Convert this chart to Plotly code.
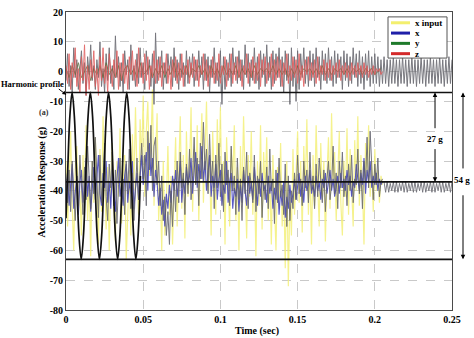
import numpy as np
import plotly.graph_objects as go

# ---- sampled records (1 kHz, g) -------------------------------------------
sample_step = 0.001
tail_start = 0.206

x_input = [
    -30, -52, -38, -20, -45, -60, -33, -25, -48, -40,
    -55, -28, -42, -18, -50, -35, -62, -30, -44, -22,
    -38, -58, -26, -47, -15, -40, -53, -32, -60, -36,
    -24, -46, -57, -30, -42, -19, -51, -37, -28, -63,
    -45, -33, -55, -21, -40, -12, -35, -48, -16, -30,
    -8, -42, -20, -10, -35, -25, -6, -45, -28, -14,
    -50, -38, -60, -30, -55, -44, -25, -48, -35, -58,
    -40, -22, -52, -31, -15, -46, -28, -56, -20, -42,
    -34, -12, -47, -26, -38, -18, -50, -30, -14, -44,
    -24, -10, -40, -28, -55, -20, -35, -48, -16, -38,
    -12, -45, -30, -58, -22, -40, -52, -26, -36, -18,
    -50, -32, -60, -25, -44, -15, -38, -56, -28, -42,
    -20, -48, -34, -62, -30, -45, -18, -53, -27, -40,
    -22, -50, -35, -58, -28, -43, -60, -32, -46, -24,
    -52, -38, -66, -30, -72, -42, -55, -26, -48, -35,
    -20, -44, -30, -54, -25, -40, -16, -48, -33, -58,
    -28, -45, -18, -38, -52, -24, -42, -30, -57, -35,
    -22, -46, -14, -39, -27, -50, -33, -20, -44, -55,
    -30, -42, -19, -48, -26, -37, -52, -23, -40, -15,
    -45, -28, -38, -58, -24, -35, -18, -42, -30, -47,
    -26, -40, -33, -44, -35, -38,
]

x_resp = [
    -40, -34, -45, -38, -31, -46, -39, -35, -48, -37,
    -33, -44, -40, -29, -42, -35, -47, -38, -32, -43,
    -36, -28, -41, -45, -34, -39, -30, -44, -37, -46,
    -33, -40, -47, -36, -29, -42, -38, -45, -35, -31,
    -44, -37, -41, -30, -46, -39, -34, -43, -36, -28,
    -38, -32, -27, -40, -24, -35, -29, -42, -33, -37,
    -45, -39, -48, -43, -52, -41, -46, -38, -44, -35,
    -40, -33, -42, -37, -30, -44, -36, -41, -32, -38,
    -35, -29, -41, -33, -27, -39, -31, -36, -25, -37,
    -30, -40, -34, -28, -42, -35, -39, -31, -43, -36,
    -33, -45, -38, -41, -30, -44, -37, -34, -46, -39,
    -42, -36, -47, -38, -44, -33, -40, -45, -35, -41,
    -37, -43, -32, -39, -45, -36, -42, -34, -40, -38,
    -44, -35, -41, -37, -46, -39, -43, -34, -48, -40,
    -45, -37, -49, -42, -46, -38, -44, -41, -36, -43,
    -39, -34, -42, -37, -44, -35, -40, -38, -33, -41,
    -38, -42, -35, -40, -37, -43, -36, -39, -34, -41,
    -37, -33, -40, -36, -42, -38, -35, -41, -34, -39,
    -36, -40, -33, -38, -35, -42, -37, -39, -31, -36,
    -40, -34, -38, -29, -41, -33, -37, -30, -39, -35,
    -38, -34, -40, -36, -38, -37,
]

x_resp_raw = [
    -36, -44, -33, -47, -30, -42, -50, -35, -45, -28,
    -40, -48, -32, -43, -25, -38, -46, -30, -41, -22,
    -35, -49, -28, -44, -36, -24, -42, -50, -31, -39,
    -27, -45, -33, -51, -38, -29, -44, -36, -48, -30,
    -41, -26, -46, -34, -50, -37, -29, -43, -32, -24,
    -36, -28, -45, -20, -33, -18, -40, -25, -22, -38,
    -30, -45, -35, -50, -42, -55, -47, -58, -40, -52,
    -36, -47, -30, -44, -27, -39, -34, -48, -31, -41,
    -26, -43, -35, -22, -38, -29, -45, -24, -36, -17,
    -33, -26, -41, -21, -37, -30, -46, -28, -39, -24,
    -42, -31, -47, -27, -38, -33, -45, -25, -40, -35,
    -48, -29, -43, -36, -50, -32, -41, -27, -46, -34,
    -38, -44, -28, -47, -35, -41, -30, -49, -37, -43,
    -32, -46, -26, -40, -36, -51, -33, -44, -29, -42,
    -38, -48, -31, -52, -35, -50, -40, -46, -34, -43,
    -28, -41, -36, -45, -30, -39, -33, -44, -27, -40,
    -35, -46, -31, -42, -29, -38, -44, -33, -47, -36,
    -30, -43, -38, -25, -41, -34, -46, -30, -39, -27,
    -42, -35, -45, -31, -40, -28, -44, -36, -38, -26,
    -41, -33, -46, -30, -37, -22, -39, -20, -35, -43,
    -31, -38, -29, -42, -37, -36,
]

x_resp_tail = [
    -37, -40.5, -37, -40.5, -37.5, -40, -37, -40.5, -37, -40.5,
    -37.5, -40, -37, -40.5, -37, -40.5, -37.5, -40, -37, -40.5,
    -37, -40.5, -37.5, -40, -37, -40.5, -37, -40.5, -37.5, -40,
    -37, -40.5, -37, -40.5, -37.5, -40, -37, -40.5, -37, -40.5,
    -37.5, -40, -37, -40.5, -37,
]

y_resp = [
    1, -2, 2, -1, 3, -2, 0, 2, -3, 1,
    -1, 2, -2, 3, -1, 1, -2, 2, -3, 1,
    2, -1, 1, -2, 3, -1, 0, 2, -2, 1,
    -1, 2, -2, 1, -1, 3, -2, 1, -1, 2,
    -2, 1, 0, 2, -1, 1, -2, 2, -1, 1,
    -2, 2, -1, 1, -1, 2, -2, 1, -1, 1,
    -2, 2, -1, 1, 0, 1, -1, 2, -1, 1,
    -1, 1, -2, 1, -1, 2, -1, 1, 0, 1,
    -1, 1, -1, 2, -1, 1, -1, 1, 0, 1,
    -1, 1, -1, 1, 0, 1, -1, 1, 0, 1,
    -1, 0, 1,
]

z_resp = [
    2, -4, 6, -6, 3, -2, 8, -5, 1, -7,
    5, -3, 9, -8, 2, -6, 4, -2, 7, -5,
    1, -8, 5, -3, 8, -4, 2, -7, 6, -1,
    -5, 4, -2, 7, -6, 3, -3, 6, -4, 2,
    -6, 5, -1, 7, -3, 4, -5, 8, -2, 3,
    -4, 6, -3, 5, -6, 2, -2, 7, -4, 4,
    -3, 5, -5, 3, -1, 6, -4, 2, -6, 4,
    -2, 5, -4, 3, -3, 6, -5, 2, -1, 4,
    -4, 3, -2, 5, -3, 4, -5, 2, -1, 6,
    -3, 4, -5, 2, -2, 5, -4, 3, -3, 6,
    -4, 2, -1, 5, -5, 3, -2, 6, -4, 3,
    -3, 5, -2, 4, -5, 2, -1, 6, -4, 3,
    -2, 5, -4, 3, -3, 6, -5, 4, -1, 5,
    -4, 3, -2, 6, -5, 4, -3, 5, -2, 4,
    -5, 3, -1, 6, -4, 2, -3, 5, -2, 4,
    -4, 6, -3, 2, -5, 4, -1, 5, -3, 3,
    -2, 4, -4, 5, -3, 2, -1, 4, -3, 3,
    -2, 4, -3, 2, -1, 3, -2, 4, -3, 2,
    -1, 3, -2, 2, -3, 3, -1, 2, -2, 3,
    -1, 2, -2, 3, -1, 2, -2, 1, -1, 2,
    -1, 1, 0, 1, -1, 0,
]

z_resp_raw = [
    -3, 6, -5, 2, -7, 8, -2, 4, -6, 1,
    7, -4, 3, -8, 5, -1, 9, -3, 2, -6,
    4, -2, 10, -5, 1, -7, 6, -3, 8, -4,
    2, -6, 12, -2, 5, -5, 3, -7, 7, -1,
    4, -6, 9, -3, 2, -5, 6, -4, 8, -2,
    3, -6, 7, -1, 4, -5, 6, -11, 13, -4,
    5, -2, 7, -6, 3, -4, 6, -1, 5, -5,
    8, -3, 4, -6, 6, -2, 3, -5, 7, -4,
    5, -1, 6, -5, 4, -3, 7, -2, 5, -6,
    6, -3, 5, -7, 4, -2, 8, -4, 3, -5,
    7, -11, 5, -6, 4, -3, 6, -5, 8, -1,
    5, -4, 7, -3, 4, -6, 9, -2, 6, -5,
    4, -3, 8, -4, 5, -6, 7, -2, 6, -5,
    9, -3, 5, -6, 7, -4, 6, -2, 8, -5,
    5, -7, 7, -3, 6, -11, 8, -5, 5, -10,
    7, -6, 6, -2, 8, -4, 5, -5, 7, -3,
    6, -5, 8, -2, 5, -6, 7, -3, 6, -4,
    8, -3, 5, -5, 7, -4, 6, -2, 5, -6,
    7, -3, 6, -5, 5, -4, 8, -2, 6, -5,
    7, -4, 5, -6, 6, -3, 7, -5, 5, -4,
    6, -4, 5, -5, 4, -4, 5, -4, 4, -5,
    4, -4, 5, -4, 4, -5, 4, -4, 5, -4,
    4, -5, 4, -4, 5, -4, 4, -5, 4, -4,
    5, -4, 4, -5, 4, -4, 5, -4, 4, -5,
    4, -4, 5, -4, 4, -5, 4, -4, 5, -4, 4,
]

# harmonic excitation profile (knots of the sine, g)
harmonic_t = [
    0.0, 0.001, 0.002475, 0.00395, 0.005425, 0.0069, 0.008375, 0.00985,
    0.011325, 0.0128, 0.014275, 0.01575, 0.017225, 0.0187, 0.020175,
    0.02165, 0.023125, 0.0246, 0.026075, 0.02755, 0.029025, 0.0305,
    0.031975, 0.03345, 0.034925, 0.0364, 0.037875, 0.03935, 0.040825,
    0.0423, 0.043775, 0.04525, 0.046725, 0.0482,
]
harmonic_g = [
    -49.2, -35, -15.2, -7, -15.2, -35, -54.8, -63,
    -54.8, -35, -15.2, -7, -15.2, -35, -54.8,
    -63, -54.8, -35, -15.2, -7, -15.2, -35,
    -54.8, -63, -54.8, -35, -15.2, -7, -15.2,
    -35, -54.8, -63, -54.8, -35,
]

# reference levels: harmonic peak, mean, harmonic trough
level_peak, level_mean, level_trough = -7, -37, -63
span_half, span_full = "27 g", "54 g"

x_ticks = [0, 0.05, 0.1, 0.15, 0.2, 0.25]
x_tick_text = ["0", "0.05", "0.1", "0.15", "0.2", "0.25"]
y_ticks = [20, 10, 0, -10, -20, -30, -40, -50, -60, -70, -80]
y_tick_text = ["20", "10", "0", "-10", "-20", "-30", "-40", "-50", "-60", "-70", "-80"]

legend_names = ["x input", "x", "y", "z"]
legend_colors = ["#f3ef6e", "#1f1fa8", "#1e7a2a", "#d42a2a"]

# ---- time bases ------------------------------------------------------------
t_main = np.round(np.arange(len(x_input)) * sample_step, 4)
t_raw_top = np.round(np.arange(len(z_resp_raw)) * sample_step, 4)
t_tail = np.round(tail_start + np.arange(len(x_resp_tail)) * sample_step, 4)
t_y = np.round(np.arange(len(y_resp)) * 2 * sample_step, 4)

SERIF = "Liberation Serif"
fig = go.Figure()

def add_line(t, v, color, width=1.0, opacity=1.0, shape="linear", smoothing=None):
    line = dict(color=color, width=width, shape=shape)
    if smoothing is not None:
        line["smoothing"] = smoothing
    fig.add_trace(go.Scatter(x=t, y=v, mode="lines", line=line,
                             opacity=opacity, showlegend=False,
                             hoverinfo="skip"))

# lower cluster: input, filtered and raw x response
add_line(t_main, x_input, "#f4f07a", 1.2, 0.85)
add_line(t_main, x_resp, "#4646c0", 1.1, 0.9)
add_line(t_main, x_resp_raw, "#5e5e68", 1.0, 0.85)
add_line(t_tail, x_resp_tail, "#707078", 0.9)

# upper cluster: z response with raw record and y
add_line(t_raw_top, z_resp_raw, "#606068", 1.0, 0.85)
add_line(t_y, y_resp, "#5c6a3c", 1.0, 0.8)
add_line(t_main, z_resp, "#e05858", 1.0, 0.85)

# harmonic profile
add_line(harmonic_t, harmonic_g, "#111111", 1.7, 1.0, "spline", 1.0)

shapes = []
for lv in (level_peak, level_mean, level_trough):
    shapes.append(dict(type="line", xref="x", yref="y", x0=0, x1=0.25,
                       y0=lv, y1=lv, line=dict(color="#111111", width=1.6),
                       layer="above"))

# manual legend box
L, R, T, B = 66, 22, 6, 28
W, H = 474 - L - R, 338 - T - B
px = lambda p: (p - L) / W
py = lambda p: (338 - B - p) / H
shapes.append(dict(type="rect", xref="paper", yref="paper",
                   x0=px(388), x1=px(447), y0=py(53), y1=py(11),
                   fillcolor="white", line=dict(color="#555555", width=1),
                   layer="above"))
annotations = []
for i, (name, col) in enumerate(zip(legend_names, legend_colors)):
    yy = py(17 + i * 10.5)
    shapes.append(dict(type="line", xref="paper", yref="paper",
                       x0=px(391), x1=px(410), y0=yy, y1=yy,
                       line=dict(color=col, width=3), layer="above"))
    annotations.append(dict(xref="paper", yref="paper", x=px(413), y=yy,
                            text=name, showarrow=False, xanchor="left",
                            yanchor="middle",
                            font=dict(family=SERIF, size=9, color="black",
                                      weight="bold")))

txt_font = dict(family=SERIF, size=9, color="black", weight="bold")

# span markers: 27 g between peak and mean
x27 = 0.239
annotations += [
    dict(x=x27, y=(level_peak + level_mean) / 2 - 0.5, xref="x", yref="y",
         text=span_half, showarrow=False, font=txt_font,
         xanchor="center", yanchor="middle"),
    dict(x=x27, y=level_peak, ax=x27, ay=-19.5, xref="x", yref="y",
         axref="x", ayref="y", text="", showarrow=True, arrowhead=2,
         arrowsize=0.9, arrowwidth=1, arrowcolor="black"),
    dict(x=x27, y=level_mean, ax=x27, ay=-25.5, xref="x", yref="y",
         axref="x", ayref="y", text="", showarrow=True, arrowhead=2,
         arrowsize=0.9, arrowwidth=1, arrowcolor="black"),
]
# 54 g between peak and trough, outside the frame
x54 = px(463)
annotations += [
    dict(x=px(462), y=level_mean + 0.5, xref="paper", yref="y",
         text=span_full, showarrow=False, font=txt_font,
         xanchor="center", yanchor="middle"),
    dict(x=x54, y=level_peak, ax=0, ay=-33, xref="paper", yref="y",
         axref="pixel", ayref="y", text="", showarrow=True, arrowhead=2,
         arrowsize=0.9, arrowwidth=1, arrowcolor="black"),
    dict(x=x54, y=level_trough, ax=0, ay=-41, xref="paper", yref="y",
         axref="pixel", ayref="y", text="", showarrow=True, arrowhead=2,
         arrowsize=0.9, arrowwidth=1, arrowcolor="black"),
]
# harmonic profile label, panel tag and axis titles
annotations += [
    dict(xref="paper", yref="paper", x=px(32), y=py(79), text="Harmonic profile",
         showarrow=False, xanchor="center", yanchor="middle",
         font=dict(family=SERIF, size=8.5, color="black", weight="bold")),
    dict(x=0.0002, y=level_peak - 0.8, xref="x", yref="y", ax=-9, ay=-7,
         text="", showarrow=True, arrowhead=2, arrowsize=0.8, arrowwidth=1,
         arrowcolor="black"),
    dict(xref="paper", yref="paper", x=px(44), y=py(109), text="(a)",
         showarrow=False, xanchor="center", yanchor="middle",
         font=dict(family=SERIF, size=8, color="#333333", weight="bold")),
    dict(xref="paper", yref="paper", x=px(42), y=py(180),
         text="Acceleration Response (g)", textangle=-90, showarrow=False,
         xanchor="center", yanchor="middle",
         font=dict(family=SERIF, size=10, color="black", weight="bold")),
    dict(xref="paper", yref="paper", x=px(257), y=py(331),
         text="Time (sec)", showarrow=False, xanchor="center",
         yanchor="middle",
         font=dict(family=SERIF, size=10, color="black", weight="bold")),
]

axis_common = dict(showline=True, mirror=True, linecolor="#4a4a4a",
                   linewidth=1, showgrid=True, gridcolor="#c9c9c9",
                   griddash="dash", gridwidth=1, zeroline=False, ticks="",
                   tickfont=dict(family=SERIF, size=10, color="black",
                                 weight="bold"))

fig.update_layout(
    width=474, height=338,
    margin=dict(l=L, r=R, t=T, b=B),
    paper_bgcolor="white", plot_bgcolor="white",
    xaxis=dict(range=[0, 0.25], tickvals=x_ticks, ticktext=x_tick_text,
               **axis_common),
    yaxis=dict(range=[-80, 20], tickvals=y_ticks, ticktext=y_tick_text,
               **axis_common),
    shapes=shapes, annotations=annotations, showlegend=False,
)

fig.write_html("out.html")
